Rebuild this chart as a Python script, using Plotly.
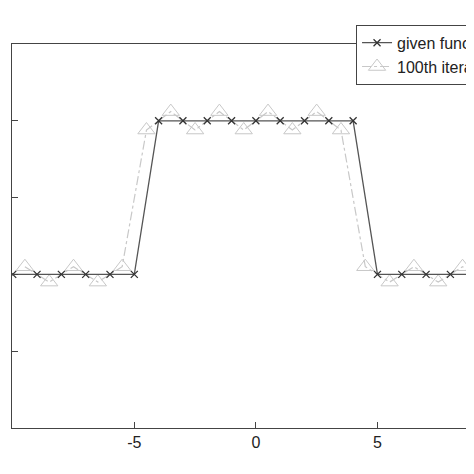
import plotly.graph_objects as go

# given function: box on integer grid
x_given = list(range(-10, 11))
y_given = [1 if abs(x) <= 4 else 0 for x in x_given]

# 100th iterate at half-integer points
x_iter = [-9.5, -8.5, -7.5, -6.5, -5.5, -4.5, -3.5, -2.5, -1.5, -0.5,
          0.5, 1.5, 2.5, 3.5, 4.5, 5.5, 6.5, 7.5, 8.5, 9.5]
y_iter = [0.05, -0.05, 0.05, -0.05, 0.05, 0.94, 1.06, 0.94, 1.06, 0.94,
          1.06, 0.94, 1.06, 0.94, 0.05, -0.05, 0.05, -0.05, 0.05, -0.05]

fig = go.Figure()
fig.add_trace(go.Scatter(x=x_iter, y=y_iter, name='100th iterate', mode='lines+markers',
                         line=dict(color='#c8c8c8', width=1.2, dash='dashdot'),
                         marker=dict(symbol='triangle-up-open', size=15, color='#c8c8c8',
                                     line=dict(width=1))))
fig.add_trace(go.Scatter(x=x_given, y=y_given, name='given function', mode='lines+markers',
                         line=dict(color='#555555', width=1.3),
                         marker=dict(symbol='x-thin-open', size=7, color='#333333',
                                     line=dict(width=1.3, color='#333333'))))

fig.update_layout(
    width=474, height=474,
    margin=dict(l=4, r=0, t=36, b=54, autoexpand=False),
    plot_bgcolor='white', paper_bgcolor='white',
    font=dict(family='Liberation Sans, Arial', size=16, color='#222222'),
    showlegend=True,
    legend=dict(x=0.732, y=1.05, xanchor='left', yanchor='top', traceorder='reversed',
                bgcolor='white', bordercolor='#444444', borderwidth=1,
                font=dict(size=16), tracegroupgap=0),
    xaxis=dict(range=[-10.03, 9.3], tickvals=[-10, -5, 0, 5], ticktext=['-10', '-5', '0', '5'],
               ticks='inside', ticklen=6, automargin=False,
               showgrid=False, zeroline=False, showline=True, linecolor='#444444',
               linewidth=1.3, mirror=True, tickcolor='#444444'),
    yaxis=dict(range=[-1, 1.5], tickvals=[-1, -0.5, 0, 0.5, 1, 1.5], ticks='inside',
               ticklen=6, showticklabels=False, showgrid=False, zeroline=False,
               automargin=False, showline=True, linecolor='#444444', linewidth=1.3,
               mirror=True, tickcolor='#444444'),
)

fig.write_html("out.html")
